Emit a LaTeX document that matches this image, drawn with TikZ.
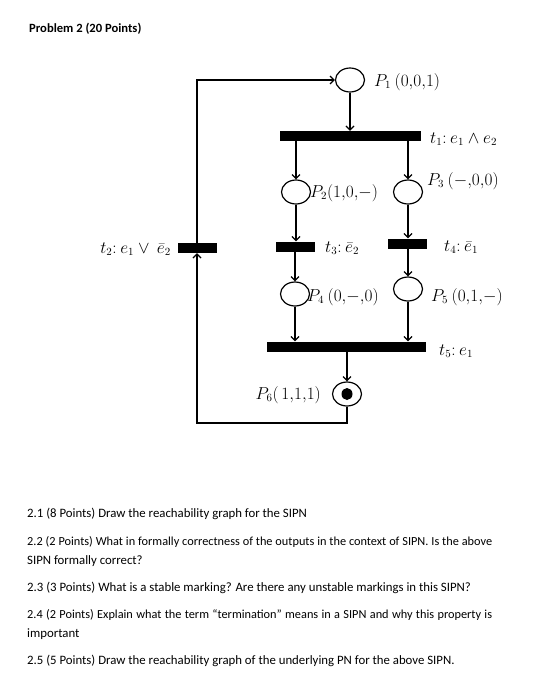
\documentclass[tikz,border=0pt]{standalone}
\usepackage{fontspec}
\setmainfont{Carlito}
\usetikzlibrary{shapes.geometric,arrows.meta}
\tikzset{
  place/.style={draw, ellipse, minimum width=29pt, minimum height=24pt, inner sep=0pt, line width=1.2pt},
  trans/.style={fill=black, draw=none, inner sep=0pt, rectangle},
  arr/.style={line width=1.2pt, -{Straight Barb[length=4pt,width=8pt,line width=1.2pt]}},
  ln/.style={line width=1.2pt},
  lbl/.style={inner sep=0pt, font=\fontsize{16}{18}\selectfont},
  qtext/.style={inner sep=0pt, anchor=base west, font=\fontsize{12.8}{15}\selectfont},
  qjust/.style={qtext, font=\fontsize{12.3}{15}\selectfont},
}
\begin{document}
\begin{tikzpicture}[x=1pt, y=-1pt]
\useasboundingbox (0,0) rectangle (553,685);

% title
\node[qtext, font=\fontsize{12.6}{15}\selectfont\bfseries] (title) at (29,33) {Problem 2 (20 Points)};

% places
\node[place] (P1) at (350,80) {};
\node[place] (P2) at (296,192) {};
\node[place] (P3) at (408,192) {};
\node[place] (P4) at (295,294) {};
\node[place] (P5) at (408,289) {};
\node[place] (P6) at (347,394) {};
\node[fill=black, ellipse, minimum width=11pt, minimum height=12pt, inner sep=0pt] (tok) at (P6) {};

% transitions
\node[trans, minimum width=141pt, minimum height=10pt] (t1) at (350.5,136) {};
\node[trans, minimum width=39pt, minimum height=10pt] (t2) at (197,248) {};
\node[trans, minimum width=39pt, minimum height=10pt] (t3) at (295.5,246.5) {};
\node[trans, minimum width=39pt, minimum height=10pt] (t4) at (407.5,243.5) {};
\node[trans, minimum width=159pt, minimum height=10pt] (t5) at (346.5,346.5) {};

% corner of loop
\coordinate (bl) at (197,423);

% arcs
\draw[arr] (P1.south) -- (P1.south |- t1.north);
\draw[arr] (t1.south -| P2) -- (P2.north);
\draw[arr] (t1.south -| P3) -- (P3.north);
\draw[arr] (P2.south) -- (P2.south |- t3.north);
\draw[arr] (t3.south -| P4) -- (P4.north);
\draw[arr] (P3.south) -- (P3.south |- t4.north);
\draw[arr] (t4.south -| P5) -- (P5.north);
\draw[arr] (P4.south) -- (P4.south |- t5.north);
\draw[arr] (P5.south) -- (P5.south |- t5.north);
\draw[arr] (t5.south -| P6) -- (P6.north);
\draw[arr] (P6.south) |- (bl) -- (t2.south);
\draw[arr] (t2.north) |- (P1.west);

% labels
\node[lbl, anchor=west] (lP1) at (374,82) {$P_1\ (0{,}0{,}1)$};
\node[lbl, anchor=west] (lt1) at (430,139) {$t_1{:}\ e_1\wedge e_2$};
\node[lbl, anchor=east] (lt2) at (171,249) {$t_2{:}\ e_1 \vee\ \bar{e}_2$};
\node[lbl, anchor=west] (lP2) at (310,193) {$P_2(1{,}0{,}{-})$};
\node[lbl, anchor=west] (lP3) at (427,181) {$P_3\ ({-}{,}0{,}0)$};
\node[lbl, anchor=west] (lt3) at (325,248) {$t_3{:}\ \bar{e}_2$};
\node[lbl, anchor=west] (lt4) at (444,247) {$t_4{:}\ \bar{e}_1$};
\node[lbl, anchor=west] (lP4) at (307,297) {$P_4\ (0{,}{-}{,}0)$};
\node[lbl, anchor=west] (lP5) at (431,297) {$P_5\ (0{,}1{,}{-})$};
\node[lbl, anchor=west] (lt5) at (439,351) {$t_5{:}\ e_1$};
\node[lbl, anchor=east] (lP6) at (321,395) {$P_6(\,1{,}1{,}1)$};

% questions
\node[qtext] (q1) at (27,517) {2.1 (8 Points) Draw the reachability graph for the SIPN};
\node[qjust] (q2a) at (27,545) {\makebox[465pt][s]{2.2 (2 Points) What in formally correctness of the outputs in the context of SIPN. Is the above}};
\node[qtext] (q2b) at (27,564) {SIPN formally correct?};
\node[qtext] (q3) at (27,591) {2.3 (3 Points) What is a stable marking? Are there any unstable markings in this SIPN?};
\node[qjust] (q4a) at (27,618) {\makebox[465pt][s]{2.4 (2 Points) Explain what the term “termination” means in a SIPN and why this property is}};
\node[qtext] (q4b) at (27,637) {important};
\node[qtext] (q5) at (27,664) {2.5 (5 Points) Draw the reachability graph of the underlying PN for the above SIPN.};
\end{tikzpicture}
\end{document}
